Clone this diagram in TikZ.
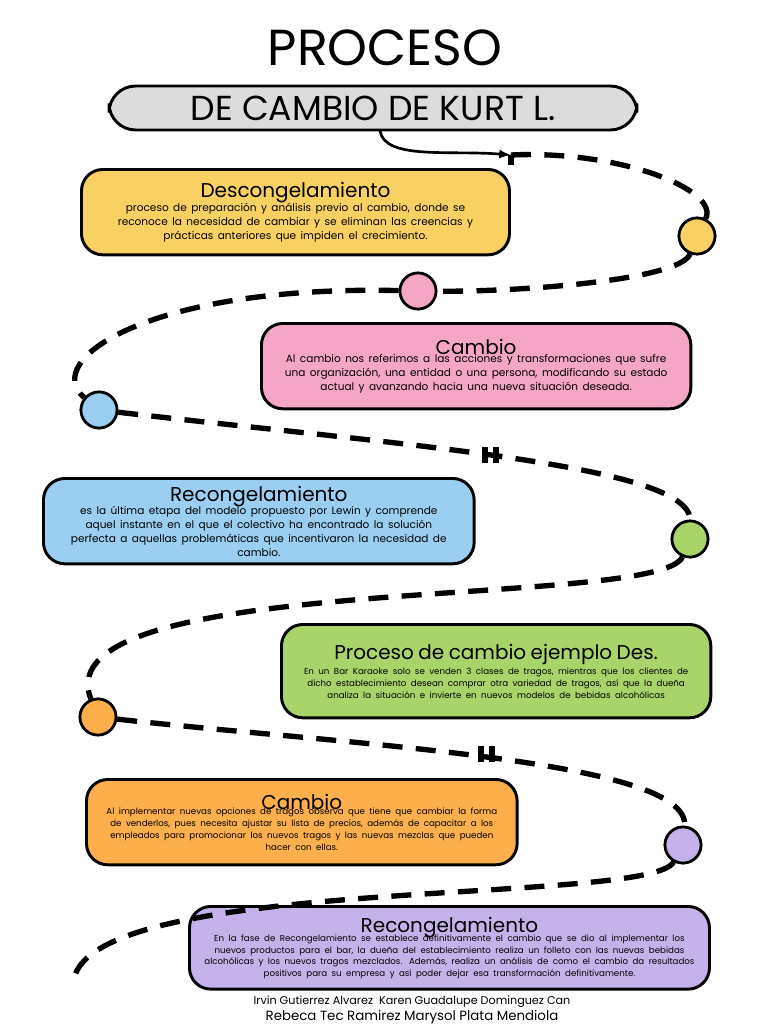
\documentclass[tikz,border=0pt]{standalone}
\usepackage{fontspec}
\setmainfont{Poppins}
\definecolor{ambar}{HTML}{F9D162}
\definecolor{rosa}{HTML}{F5A6C6}
\definecolor{celeste}{HTML}{9ACFF2}
\definecolor{verde}{HTML}{A9D46A}
\definecolor{naranja}{HTML}{FDAF4B}
\definecolor{lila}{HTML}{C6B2EA}
\definecolor{gris}{HTML}{DCDCDC}
\tikzset{
  etapa/.style={draw=black, line width=2.2pt, rounded corners=16pt, align=center,
    inner sep=3pt, anchor=north west},
  paso/.style={circle, draw=black, line width=2pt, minimum size=27pt, inner sep=0pt},
  camino/.style={line width=4pt, dash pattern=on 15pt off 10pt},
  marca/.style={line width=4pt},
}
\newcommand{\titulo}[1]{{\fontsize{15}{17}\selectfont #1\par}}
\newcommand{\cuerpo}{\centering\hyphenpenalty=10000\exhyphenpenalty=10000\fontsize{7.9}{10.4}\selectfont}
\newcommand{\menudo}{\centering\hyphenpenalty=10000\exhyphenpenalty=10000\fontsize{6.5}{8.8}\selectfont}
\begin{document}
\begin{tikzpicture}[x=0.75pt,y=-0.75pt]
\useasboundingbox (0,0) rectangle (768,1024);
% cabecera
\node (proceso) at (385,48) {\fontsize{38}{40}\selectfont PROCESO};
\node[draw=black, line width=2.2pt, fill=gris, rounded corners=20pt,
  minimum width=396pt, minimum height=33pt] (kurt) at (373,108)
  {\fontsize{26}{28}\selectfont DE CAMBIO DE KURT L.};
\coordinate (inicio) at (511,155);
\draw[line width=2pt, ->, >=latex] (380,131) .. controls (385,160) and (450,150) .. (inicio);
% cajas
\node[etapa, fill=ambar, minimum width=321pt, minimum height=64pt, text width=300pt] (desc) at (80,168)
  {\titulo{Descongelamiento}\vspace{-1pt}\parbox{272pt}{\cuerpo proceso de preparación y análisis previo al cambio, donde se reconoce la necesidad de cambiar y se eliminan las creencias y prácticas anteriores que impiden el crecimiento.}};
\node[etapa, fill=rosa, minimum width=322pt, minimum height=64pt, text width=300pt] (camb) at (260,322)
  {\titulo{Cambio}\vspace{-1pt}\parbox{296pt}{\cuerpo Al cambio nos referimos a las acciones y transformaciones que sufre una organización, una entidad o una persona, modificando su estado actual y avanzando hacia una nueva situación deseada.}};
\node[etapa, fill=celeste, minimum width=323pt, minimum height=64pt, text width=300pt] (recon) at (42,477)
  {\titulo{Recongelamiento}\vspace{-1pt}\parbox{290pt}{\cuerpo es la última etapa del modelo propuesto por Lewin y comprende aquel instante en el que el colectivo ha encontrado la solución perfecta a aquellas problemáticas que incentivaron la necesidad de cambio.}};
\node[etapa, fill=verde, minimum width=322pt, minimum height=70pt, text width=312pt] (ejem) at (280,623)
  {\titulo{Proceso de cambio ejemplo Des.}\vspace{2pt}\parbox{300pt}{\menudo En un Bar Karaoke solo se venden 3 clases de tragos, mientras que los clientes de dicho establecimiento desean comprar otra variedad de tragos, así que la dueña analiza la situación e invierte en nuevos modelos de bebidas alcohólicas}};
\node[etapa, fill=naranja, minimum width=323pt, minimum height=64pt, text width=312pt] (camb2) at (85,778)
  {\titulo{Cambio}\vspace{-2pt}\parbox{300pt}{\menudo Al implementar nuevas opciones de tragos observa que tiene que cambiar la forma de venderlos, pues necesita ajustar su lista de precios, además de capacitar a los empleados para promocionar los nuevos tragos y las nuevas mezclas que pueden hacer con ellas.}};
\node[etapa, fill=lila, minimum width=390pt, minimum height=62pt, text width=386pt, inner sep=1pt] (recon2) at (188,905)
  {\titulo{Recongelamiento}\vspace{-3pt}\parbox{370pt}{\menudo En la fase de Recongelamiento se establece definitivamente el cambio que se dio al implementar los nuevos productos para el bar, la dueña del establecimiento realiza un folleto con las nuevas bebidas alcohólicas y los nuevos tragos mezclados. Además, realiza un análisis de como el cambio da resultados positivos para su empresa y así poder dejar esa transformación definitivamente.}};
% autores
\node[align=center] (autores) at (412,1010) {\fontsize{8.4}{11}\selectfont Irvin Gutierrez Alvarez\ \ Karen Guadalupe Dominguez Can\\ Rebeca Tec Ramirez Marysol Plata Mendiola};
% camino
\node[paso] (p1) at (697,236) {};
\node[paso] (p2) at (418,291) {};
\node[paso] (p3) at (99,410) {};
\node[paso] (p4) at (690,539) {};
\node[paso] (p5) at (98,717) {};
\node[paso] (p6) at (683,845) {};
\coordinate (fin) at (75,975);
\draw[camino] (inicio) .. controls (620,150) and (720,190) .. (p1);
\draw[camino] (p1) .. controls (680,280) and (520,292) .. (p2);
\draw[camino] (p2) .. controls (150,285) and (40,360) .. (p3);
\draw[camino] (p3) .. controls (400,445) and (690,465) .. (p4);
\draw[camino] (p4) .. controls (660,610) and (40,570) .. (p5);
\draw[camino] (p5) .. controls (350,745) and (690,760) .. (p6);
\draw[camino] (p6) .. controls (650,905) and (110,875) .. (fin);
\node[paso, fill=ambar] at (p1) {};
\node[paso, fill=rosa] at (p2) {};
\node[paso, fill=celeste] at (p3) {};
\node[paso, fill=verde] at (p4) {};
\node[paso, fill=naranja] at (p5) {};
\node[paso, fill=lila] at (p6) {};
\draw[marca] (inicio) -- ++(0,10);
\draw[marca] (485,447) -- ++(0,16) (496,447) -- ++(0,16);
\draw[marca] (481,746) -- ++(0,16) (492,746) -- ++(0,16);
\end{tikzpicture}
\end{document}
